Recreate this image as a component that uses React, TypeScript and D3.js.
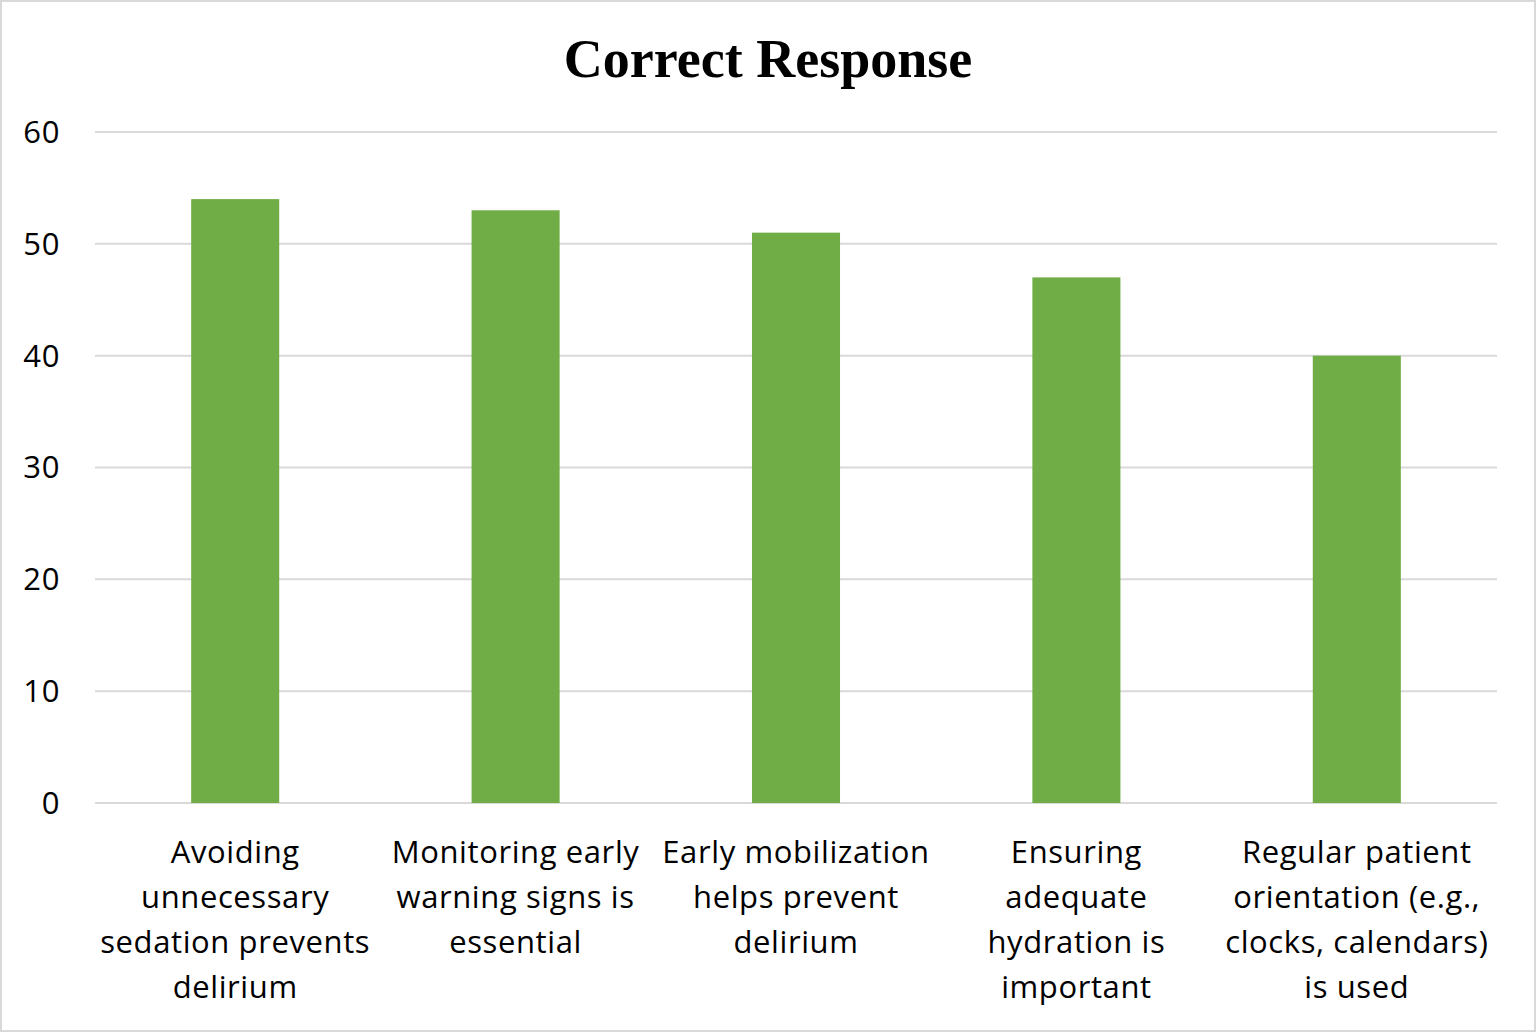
import React from "react";
import * as d3 from "d3";

const categories: string[][] = [
  ["Avoiding", "unnecessary", "sedation prevents", "delirium"],
  ["Monitoring early", "warning signs is", "essential"],
  ["Early mobilization", "helps prevent", "delirium"],
  ["Ensuring", "adequate", "hydration is", "important"],
  ["Regular patient", "orientation (e.g.,", "clocks, calendars)", "is used"],
];
const values: number[] = [54, 53, 51, 47, 40];
const yTicks: number[] = [0, 10, 20, 30, 40, 50, 60];
const title = "Correct Response";

const W = 1536;
const H = 1032;
const left = 95;
const right = 1497;
const top = 132;
const bottom = 803;

export default function App() {
  const keys = categories.map((_, i) => String(i));
  const x = d3.scaleBand<string>().domain(keys).range([left, right]).paddingInner(0.686).paddingOuter(0.343);
  const xc = d3.scaleBand<string>().domain(keys).range([left, right]);
  const y = d3.scaleLinear().domain([0, 60]).range([bottom, top]);
  const labelFont = "'Open Sans', sans-serif";
  return (
    <svg width={W} height={H} style={{ position: "absolute", left: 0, top: 0, display: "block" }}>
      <rect x={1} y={1} width={W - 2} height={H - 2} fill="#ffffff" stroke="#d9d9d9" strokeWidth={2} />
      <text x={768} y={77} textAnchor="middle" fontFamily="'Liberation Serif', 'Times New Roman', serif" fontWeight="bold" fontSize={54} fill="#000">
        {title}
      </text>
      {yTicks.map((t) => (
        <g key={t}>
          <line x1={left} x2={right} y1={y(t)} y2={y(t)} stroke="#d9d9d9" strokeWidth={2} />
          <text x={60} y={y(t)} dy="0.35em" textAnchor="end" fontFamily={labelFont} fontSize={31} letterSpacing={0.6} fill="#000">
            {t}
          </text>
        </g>
      ))}
      {values.map((v, i) => (
        <rect key={i} x={x(String(i))} y={y(v)} width={x.bandwidth()} height={y(0) - y(v)} fill="#70ad47" />
      ))}
      {categories.map((lines, i) => {
        const cx = (xc(String(i)) as number) + xc.bandwidth() / 2;
        return (
          <text key={i} textAnchor="middle" fontFamily={labelFont} fontSize={31} letterSpacing={0.6} fill="#000">
            {lines.map((ln, j) => (
              <tspan key={j} x={cx} y={863 + j * 45}>
                {ln}
              </tspan>
            ))}
          </text>
        );
      })}
    </svg>
  );
}
